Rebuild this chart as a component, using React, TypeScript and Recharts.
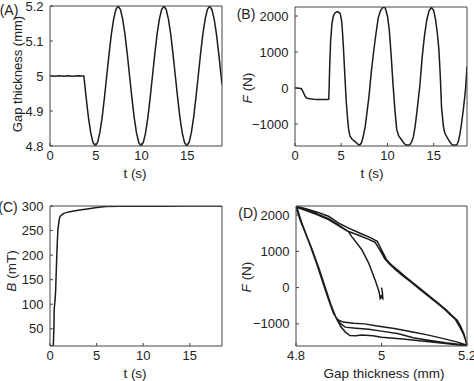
import React from 'react';
import { LineChart, Line, XAxis, YAxis } from 'recharts';

// ---------- Panel A: gap thickness vs time ----------
const timeA = [
  0, 0.5, 1.0, 1.5, 2.0, 2.5, 3.0, 3.5, 3.7, 3.95, 4.2, 4.45, 4.7, 4.95, 5.2, 5.45, 5.7, 5.95,
  6.2, 6.45, 6.7, 6.95, 7.2, 7.45, 7.7, 7.95, 8.2, 8.45, 8.7, 8.95, 9.2, 9.45, 9.7, 9.95,
  10.2, 10.45, 10.7, 10.95, 11.2, 11.45, 11.7, 11.95, 12.2, 12.45, 12.7, 12.95, 13.2, 13.45,
  13.7, 13.95, 14.2, 14.45, 14.7, 14.95, 15.2, 15.45, 15.7, 15.95, 16.2, 16.45, 16.7, 16.95,
  17.2, 17.45, 17.7, 17.95, 18.2, 18.45, 18.7, 18.8,
];
const gapA = [
  5.0005, 4.9995, 5.0005, 4.9995, 5.0005, 4.9995, 5.0005, 5.0, 5.0, 4.938, 4.882, 4.838, 4.81, 4.8,
  4.81, 4.838, 4.882, 4.938, 5.0, 5.062, 5.118, 5.162, 5.19, 5.2, 5.19, 5.162, 5.118, 5.062,
  5.0, 4.938, 4.882, 4.838, 4.81, 4.8, 4.81, 4.838, 4.882, 4.938, 5.0, 5.062, 5.118, 5.162,
  5.19, 5.2, 5.19, 5.162, 5.118, 5.062, 5.0, 4.938, 4.882, 4.838, 4.81, 4.8, 4.81, 4.838,
  4.882, 4.938, 5.0, 5.062, 5.118, 5.162, 5.19, 5.2, 5.19, 5.162, 5.118, 5.062, 5.0, 4.975,
];

// ---------- Panel B: force vs time ----------
const timeB = [
  0, 0.5, 0.7, 0.9, 1.1, 1.3, 1.6, 2.0, 2.5, 3.0, 3.5, 3.65, 3.7, 3.75, 3.85, 4.0, 4.15, 4.3,
  4.5, 4.7, 4.9, 5.05, 5.15, 5.25, 5.4, 5.55, 5.7, 5.8, 5.95, 6.2, 6.5, 6.8, 7.0, 7.2, 7.4,
  7.6, 7.8, 8.0, 8.25, 8.5, 8.75, 9.0, 9.25, 9.5, 9.75, 10.0, 10.2, 10.4, 10.6, 10.8, 11.0,
  11.2, 11.5, 11.8, 12.0, 12.4, 12.6, 12.8, 13.0, 13.2, 13.5, 13.75, 14.0, 14.25, 14.5,
  14.75, 15.0, 15.2, 15.4, 15.55, 15.7, 15.85, 16.05, 16.2, 16.4, 16.7, 17.0, 17.5, 17.7,
  17.85, 18.0, 18.2, 18.35, 18.45, 18.55, 18.6,
];
const forceB = [
  0, -5, -20, -120, -230, -285, -300, -310, -318, -320, -318, -310, 100, 600, 1300, 1800,
  2000, 2080, 2120, 2110, 2060, 1850, 1500, 1056, 300, -400, -900, -1150, -1340, -1430,
  -1490, -1560, -1590, -1510, -1320, -1060, -650, -230, 440, 1000, 1500, 1950, 2150, 2240,
  2230, 2000, 1600, 900, 100, -600, -1150, -1320, -1430, -1540, -1580, -1580, -1500, -1360,
  -1050, -620, 60, 850, 1450, 1890, 2150, 2240, 2150, 1900, 1500, 1100, 400, -550, -1070,
  -1250, -1350, -1480, -1580, -1580, -1450, -1260, -1000, -611, -250, 0, 400, 600,
];

// ---------- Panel C: magnetic field vs time ----------
const timeC = [
  0, 0.3, 0.36, 0.43, 0.45, 0.5, 0.55, 0.61, 0.66, 0.71, 0.78, 0.85, 0.95, 1.06, 1.25, 1.49,
  2.0, 2.55, 3.2, 3.98, 5.04, 6.0, 9.0, 12.0, 15.0, 18.45,
];
const fieldC = [
  15, 15, 17, 60, 90, 100, 110, 130, 160, 190, 225, 251, 268, 278, 282, 285, 288, 290, 292,
  294, 297, 299, 300, 299.5, 300, 300,
];

// ---------- Panel D: force vs gap thickness (hysteresis) ----------
const gapD = [
  5.0, 5.002, 5.003, 4.998, 5.003, 4.997, 4.995, 4.993, 4.985, 4.97, 4.954, 4.93, 4.922,
  4.9, 4.876, 4.84, 4.81, 4.8,
  4.801, 4.81, 4.822, 4.834, 4.85, 4.865, 4.878, 4.888, 4.897, 4.91, 4.935, 4.96, 4.99,
  5.03, 5.07, 5.11, 5.15, 5.18, 5.198,
  5.2, 5.197, 5.192, 5.184, 5.176, 5.163, 5.152, 5.132, 5.113, 5.094, 5.074, 5.055, 5.036,
  5.022, 5.012, 5.004, 4.998, 4.99, 4.975, 4.95, 4.922, 4.9, 4.876, 4.85, 4.825, 4.805, 4.8,
  4.802, 4.812, 4.824, 4.836, 4.852, 4.867, 4.88, 4.892, 4.903, 4.915, 4.94, 4.97, 5.0,
  5.04, 5.074, 5.11, 5.15, 5.18, 5.199,
  5.2, 5.196, 5.19, 5.182, 5.173, 5.16, 5.148, 5.128, 5.108, 5.089, 5.07, 5.05, 5.032,
  5.018, 5.008, 5.0, 4.994, 4.985, 4.97, 4.945, 4.92, 4.9, 4.876, 4.85, 4.825, 4.805, 4.8,
  4.803, 4.813, 4.826, 4.838, 4.854, 4.869, 4.882, 4.894, 4.905, 4.915, 4.926, 4.94, 4.954,
  4.98, 5.0, 5.05, 5.1, 5.15, 5.18, 5.2,
  5.199, 5.193, 5.185, 5.177, 5.165, 5.153, 5.134, 5.115, 5.095, 5.076, 5.057, 5.04, 5.025,
  5.014,
];
const forceD = [
  0, -120, -300, -240, -200, -300, -150, -64, 213, 676, 1044, 1413, 1551, 1720, 1900, 2080,
  2190, 2230,
  2180, 1850, 1500, 1136, 600, 60, -400, -720, -880, -950, -980, -1000, -1060, -1130,
  -1220, -1310, -1420, -1510, -1580,
  -1600, -1450, -1263, -1080, -895, -760, -618, -430, -249, -60, 122, 300, 490, 640, 767,
  950, 1091, 1274, 1370, 1500, 1645, 1780, 1967, 2080, 2170, 2230, 2245,
  2200, 1820, 1450, 1080, 560, 20, -440, -790, -980, -1090, -1120, -1150, -1200, -1270,
  -1380, -1450, -1520, -1560, -1595,
  -1600, -1420, -1240, -1060, -880, -740, -600, -410, -220, -40, 140, 320, 500, 660, 790,
  960, 1080, 1250, 1330, 1450, 1560, 1700, 1875, 2010, 2120, 2200, 2230,
  2180, 1800, 1400, 1040, 520, -20, -480, -840, -1080, -1220, -1320, -1330, -1310, -1330,
  -1370, -1420, -1480, -1540, -1580, -1600,
  -1560, -1280, -1060, -900, -770, -630, -440, -260, -70, 110, 290, 460, 610, 730,
];

// ---------- tick labels ----------
const timeTicks = [0, 5, 10, 15];
const gapTicks = [4.8, 4.9, 5, 5.1, 5.2];
const forceTicks = [-1000, 0, 1000, 2000];
const fieldTicks = [50, 100, 150, 200, 250, 300];
const gapTicksD = [4.8, 5, 5.2];

const FONT = '"Liberation Sans", Arial, Helvetica, sans-serif';
const TEXT = '#222';
const AXIS = '#444';
const LINE = '#1c1c1c';

const fmt = (v: number) => (v < 0 ? '\u2212' + Math.abs(v) : String(v));

const zip = (xs: number[], ys: number[]) => xs.map((x, i) => ({ x, y: ys[i] }));

type PanelProps = {
  left: number;
  top: number;
  width: number;
  height: number;
  margin: { top: number; right: number; bottom: number; left: number };
  yWidth: number;
  xHeight: number;
  data: { x: number; y: number }[];
  xDomain: [number, number];
  yDomain: [number, number];
  xTicks: number[];
  yTicks: number[];
};

function Panel(p: PanelProps) {
  const tickStyle = { fill: TEXT, fontSize: 13, fontFamily: FONT };
  return (
    <div style={{ position: 'absolute', left: p.left, top: p.top, width: p.width, height: p.height }}>
      <LineChart width={p.width} height={p.height} data={p.data} margin={p.margin}>
        <XAxis
          dataKey="x"
          type="number"
          domain={p.xDomain}
          ticks={p.xTicks}
          interval={0}
          allowDataOverflow
          height={p.xHeight}
          tickSize={-3}
          tickMargin={8}
          stroke={AXIS}
          tick={tickStyle}
          tickFormatter={fmt}
        />
        <XAxis
          xAxisId="top"
          orientation="top"
          type="number"
          domain={p.xDomain}
          ticks={p.xTicks}
          interval={0}
          allowDataOverflow
          height={1}
          tickSize={-3}
          stroke={AXIS}
          tick={false}
        />
        <YAxis
          dataKey="y"
          type="number"
          domain={p.yDomain}
          ticks={p.yTicks}
          interval={0}
          allowDataOverflow
          width={p.yWidth}
          tickSize={-3}
          tickMargin={9.5}
          stroke={AXIS}
          tick={tickStyle}
          tickFormatter={fmt}
        />
        <YAxis
          yAxisId="right"
          orientation="right"
          type="number"
          domain={p.yDomain}
          ticks={p.yTicks}
          interval={0}
          allowDataOverflow
          width={1}
          tickSize={-3}
          stroke={AXIS}
          tick={false}
        />
        <Line
          dataKey="y"
          type="linear"
          dot={false}
          isAnimationActive={false}
          stroke={LINE}
          strokeWidth={1.5}
        />
      </LineChart>
    </div>
  );
}

function Txt({ x, y, children, rotate, size = 13.5 }: { x: number; y: number; children: React.ReactNode; rotate?: boolean; size?: number }) {
  return (
    <text
      x={x}
      y={y}
      textAnchor="middle"
      dominantBaseline="central"
      fontSize={size}
      fontFamily={FONT}
      fill={TEXT}
      transform={rotate ? `rotate(-90 ${x} ${y})` : undefined}
    >
      {children}
    </text>
  );
}

export default function App() {
  return (
    <div style={{ position: 'absolute', left: 0, top: 0, width: 474, height: 381, background: '#fff', overflow: 'hidden' }}>
      <Panel
        left={0}
        top={0}
        width={237}
        height={190}
        margin={{ top: 5, right: 14, bottom: 0, left: 0 }}
        yWidth={50}
        xHeight={44}
        data={zip(timeA, gapA)}
        xDomain={[0, 18.8]}
        yDomain={[4.8, 5.2]}
        xTicks={timeTicks}
        yTicks={gapTicks}
      />
      <Panel
        left={237}
        top={0}
        width={237}
        height={190}
        margin={{ top: 6, right: 6, bottom: 0, left: 0 }}
        yWidth={58}
        xHeight={44}
        data={zip(timeB, forceB)}
        xDomain={[0, 18.6]}
        yDomain={[-1610, 2250]}
        xTicks={timeTicks}
        yTicks={forceTicks}
      />
      <Panel
        left={0}
        top={190}
        width={237}
        height={191}
        margin={{ top: 15, right: 14, bottom: 0, left: 0 }}
        yWidth={50}
        xHeight={35}
        data={zip(timeC, fieldC)}
        xDomain={[0, 18.45]}
        yDomain={[15, 300]}
        xTicks={timeTicks}
        yTicks={fieldTicks}
      />
      <Panel
        left={237}
        top={190}
        width={237}
        height={191}
        margin={{ top: 15, right: 6, bottom: 0, left: 0 }}
        yWidth={59}
        xHeight={35}
        data={zip(gapD, forceD)}
        xDomain={[4.8, 5.2]}
        yDomain={[-1610, 2250]}
        xTicks={gapTicksD}
        yTicks={forceTicks}
      />
      <svg width={474} height={381} style={{ position: 'absolute', left: 0, top: 0, pointerEvents: 'none' }}>
        <Txt x={9} y={10} size={14}>(A)</Txt>
        <Txt x={246} y={14} size={14}>(B)</Txt>
        <Txt x={8} y={207} size={14}>(C)</Txt>
        <Txt x={248} y={213} size={14}>(D)</Txt>

        <Txt x={17} y={74} size={13} rotate>Gap thickness (mm)</Txt>
        <Txt x={135} y={173}>t (s)</Txt>

        <Txt x={247} y={88} rotate>
          <tspan fontStyle="italic">F</tspan> (N)
        </Txt>
        <Txt x={372} y={173}>t (s)</Txt>

        <Txt x={11} y={271} rotate>
          <tspan fontStyle="italic">B</tspan> (mT)
        </Txt>
        <Txt x={135} y={373}>t (s)</Txt>

        <Txt x={246} y={277} rotate>
          <tspan fontStyle="italic">F</tspan> (N)
        </Txt>
        <Txt x={384} y={373}>Gap thickness (mm)</Txt>
      </svg>
    </div>
  );
}
